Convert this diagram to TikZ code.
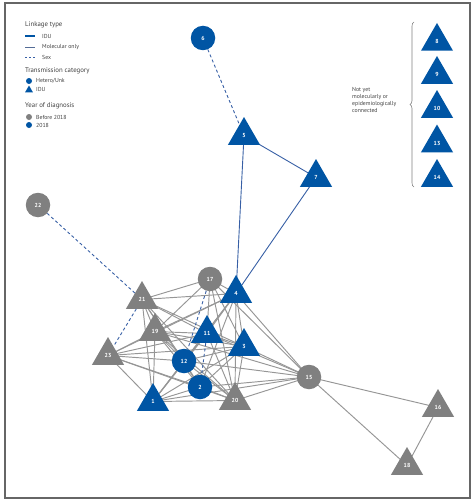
\documentclass[tikz,border=0pt]{standalone}
\usepackage{fontspec}
\setmainfont{PT Sans}
\usetikzlibrary{shapes.geometric}
\usetikzlibrary{backgrounds}
\usetikzlibrary{decorations.pathreplacing}
\definecolor{cdcblue}{RGB}{0,85,164}
\definecolor{nodegray}{RGB}{128,128,128}
\definecolor{edgegray}{RGB}{150,150,150}
\definecolor{linkblue}{RGB}{55,95,165}
\definecolor{legtext}{RGB}{64,64,64}

\begin{document}
\begin{tikzpicture}[x=1pt, y=-1pt,
        tri/.style={regular polygon, regular polygon sides=3, minimum size=37pt, inner sep=0pt,
            text=white, font=\fontsize{5.8}{6}\selectfont\bfseries},
        circ/.style={circle, minimum size=24.5pt, inner sep=0pt,
            text=white, font=\fontsize{5.8}{6}\selectfont\bfseries},
        new/.style={fill=cdcblue},
        old/.style={fill=nodegray},
        molec/.style={edgegray, line width=0.95pt},
        idulink/.style={linkblue, line width=0.9pt},
        sexlink/.style={linkblue, line width=0.9pt, dash pattern=on 3pt off 2.5pt},
        leghead/.style={anchor=west, text=legtext, font=\fontsize{6.8}{8}\selectfont, inner sep=0pt},
        legitem/.style={anchor=west, text=legtext, font=\fontsize{5.8}{7}\selectfont, inner sep=0pt}]
        \useasboundingbox (0,0) rectangle (474,503);
        % Frame
        \draw[gray!80!black, line width=1.1pt] (5,3) rectangle (470,498);

        % Legend
        \node[leghead] (lt) at (25,25) {Linkage type};
        \draw[idulink, line width=1.1pt, cdcblue] (25,36) -- (35,36);
        \node[legitem] (lidu) at (42,36) {IDU};
        \draw[molec, linkblue!60!gray] (25,47) -- (35,47);
        \node[legitem] (lmol) at (42,47) {Molecular only};
        \draw[sexlink, dash pattern=on 2pt off 2pt] (25,57) -- (35,57);
        \node[legitem] (lsex) at (42,57) {Sex};
        \node[leghead] (tc) at (25,71) {Transmission category};
        \fill[cdcblue] (29,81) circle (3pt);
        \node[legitem] (lhet) at (36,81) {Hetero/Unk};
        \node[regular polygon, regular polygon sides=3, minimum size=9pt, inner sep=0pt, new] (ltri) at (29,90) {};
        \node[legitem] (lidu2) at (36,89.5) {IDU};
        \node[leghead] (yd) at (25,106) {Year of diagnosis};
        \fill[nodegray] (29,117) circle (3pt);
        \node[legitem] (lbef) at (36,117) {Before 2018};
        \fill[cdcblue] (29,125) circle (3pt);
        \node[legitem] (l18) at (36,125) {2018};

        % Triangles (IDU)
        \foreach \n/\x/\y in {1/153/401.5, 3/244/346.5, 4/236/293.5, 5/244/135.5, 7/316/177.5, 11/207/333.5}
            \node[tri, new] (n\n) at (\x,\y) {\n};
        \foreach \n/\x/\y in {16/438/407.5, 18/407/465.5, 19/155/331.5, 20/235/400.5, 21/142/299.5, 23/108/355.5}
            \node[tri, old] (n\n) at (\x,\y) {\n};
        % Circles (Hetero/Unk)
        \foreach \n/\x/\y in {2/200/387, 6/203/38, 12/184/361}
            \node[circ, new] (n\n) at (\x,\y) {\n};
        \foreach \n/\x/\y in {15/309/377, 17/210/279, 22/38/205}
            \node[circ, old] (n\n) at (\x,\y) {\n};

        % Not yet connected
        \foreach \n/\y in {8/41.5, 9/74.5, 10/108.5, 13/143, 14/177.5}
            \node[tri, new] (n\n) at (437,\y) {\n};
        \draw[gray, line width=0.6pt, decorate, decoration={brace, amplitude=4pt}] (414,187) -- (414,22);
        \node[legitem, align=left, font=\fontsize{5.8}{6.9}\selectfont] (nyc) at (352,100)
            {Not yet\\molecularly or\\epidemiologically\\connected};

        % Links
        \begin{scope}[on background layer]
            \foreach \a/\b in {21/17, 21/4, 21/19, 21/1, 21/11, 21/3, 21/12, 21/2, 21/20,
                23/19, 23/4, 23/11, 23/3, 23/12, 23/2, 23/20, 23/1,
                19/17, 19/4, 19/11, 19/3, 19/12, 19/2, 19/20, 19/1, 19/15,
                1/12, 1/2, 1/20, 1/11, 1/4, 1/3, 1/15,
                12/2, 12/4, 12/11, 12/3, 12/20, 12/15,
                2/3, 2/4, 2/20, 2/15,
                17/4, 17/11, 17/3, 17/20, 17/15,
                4/11, 4/3, 4/20, 4/15,
                11/3, 11/20, 11/15, 3/20, 3/15, 20/15,
                15/16, 15/18, 16/18}
                \draw[molec] (n\a.center) -- (n\b.center);
            \foreach \a/\b in {5/7, 5/4, 7/4}
                \draw[idulink] (n\a.center) -- (n\b.center);
            \foreach \a/\b in {6/5, 22/21, 21/23, 17/12, 11/2}
                \draw[sexlink] (n\a) -- (n\b);
        \end{scope}
\end{tikzpicture}
\end{document}
